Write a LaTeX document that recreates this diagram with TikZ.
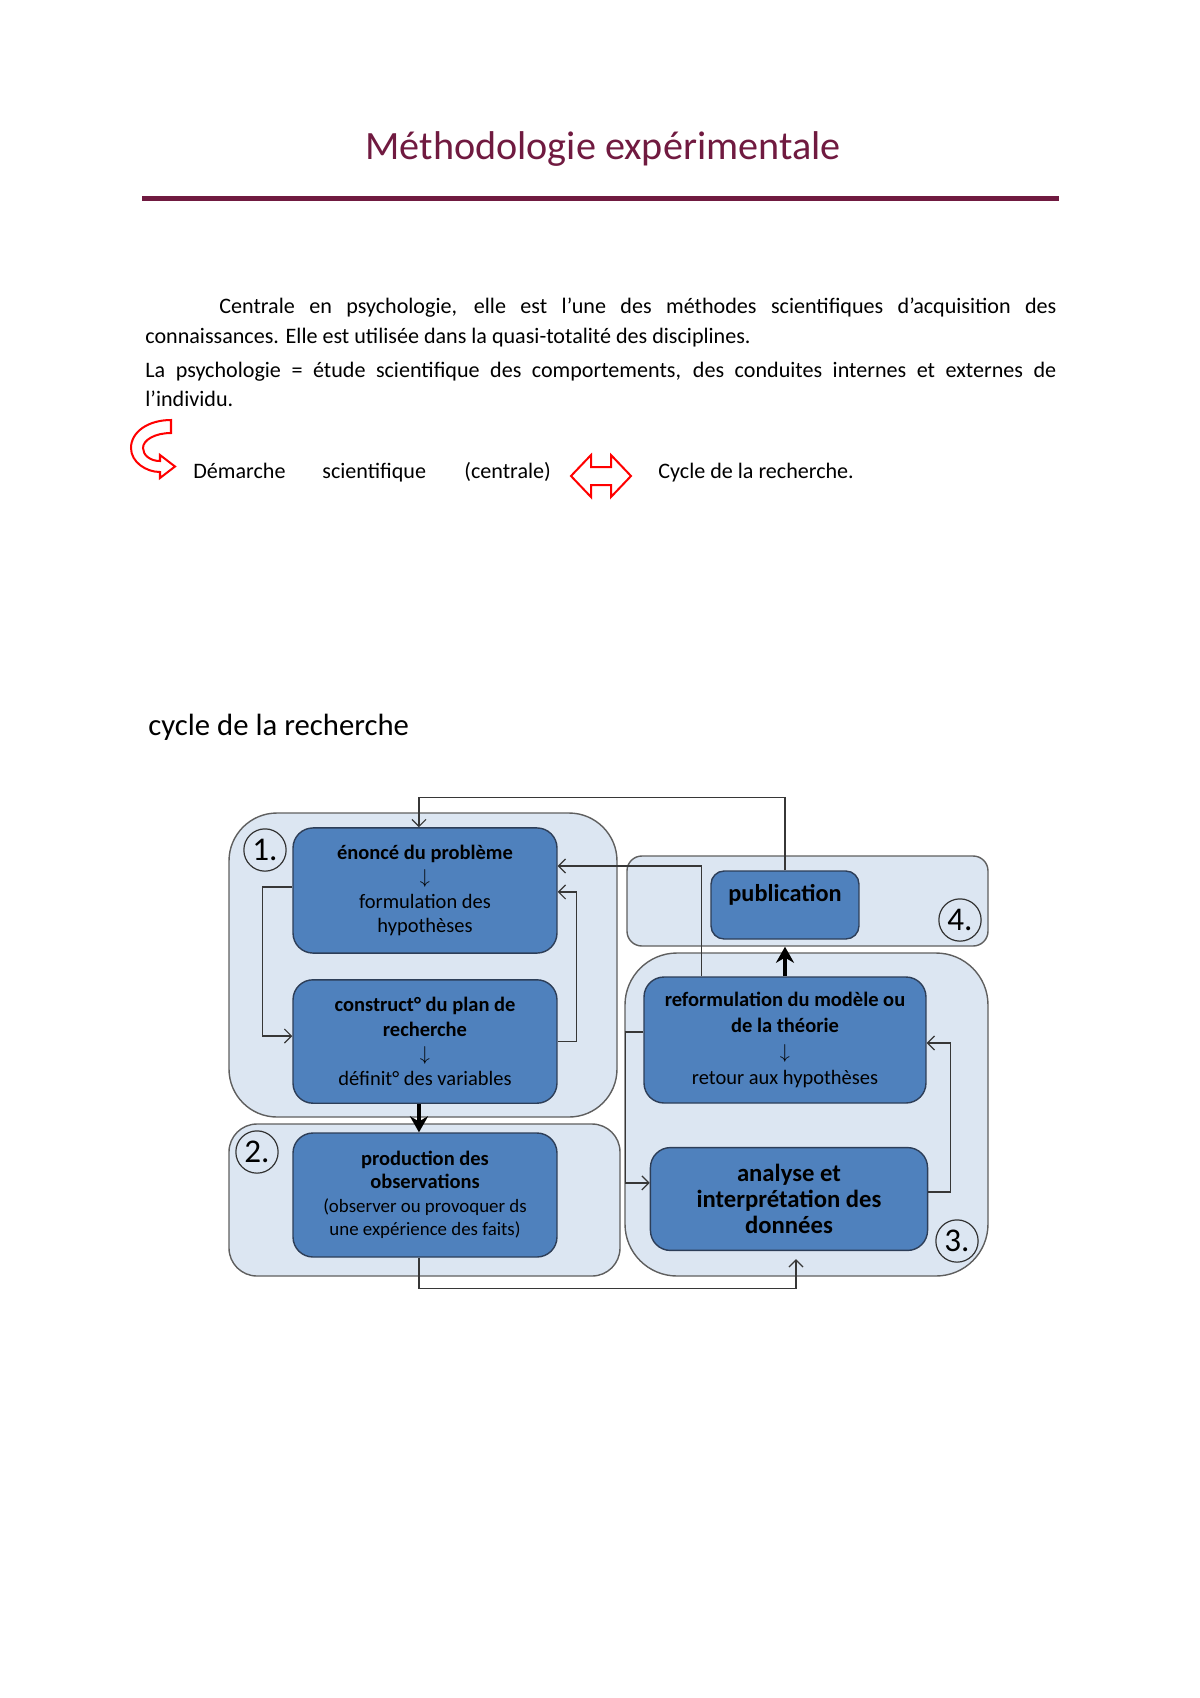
\documentclass[tikz,border=0pt]{standalone}
\usepackage{fontspec}
\setmainfont{Carlito}
\usetikzlibrary{arrows.meta}
\definecolor{titre}{RGB}{112,26,64}
\definecolor{bleuboite}{RGB}{79,129,189}
\definecolor{bordboite}{RGB}{45,62,88}
\definecolor{bleuclair}{RGB}{220,230,242}
\definecolor{bordzone}{RGB}{95,95,95}
\definecolor{fil}{RGB}{55,55,55}

\begin{document}
\begin{tikzpicture}[x=0.0175cm,y=-0.0175cm]

    % Styles
    \tikzset{
        texte/.style={inner sep=0pt, font=\fontsize{11}{13}\selectfont},
        zonebox/.style={draw=bordzone, fill=bleuclair, line width=0.7pt},
        etape/.style={draw=bordboite, fill=bleuboite, line width=0.7pt, rounded corners=0.35cm,
            align=center, minimum width=4.62cm, inner sep=0pt, font=\fontsize{10.2}{12.2}\selectfont},
        num/.style={circle, draw=black!80, fill=bleuclair, line width=0.6pt, minimum size=0.74cm,
            inner sep=0pt, font=\fontsize{16.5}{16.5}\selectfont},
        lien/.style={draw=fil, line width=0.6pt, -{Straight Barb[length=3.5pt,width=7pt]}},
        gros/.style={line width=2pt, -{Stealth[length=8pt,width=9pt]}},
        fleche/.style={draw=red, fill=white, line width=1pt, line join=miter}
    }

    \useasboundingbox (0,0) rectangle (1200,1698);

    % Title and rule
    \node[inner sep=0pt, anchor=base, text=titre, font=\fontsize{20}{24}\selectfont] (titre) at (603,159) {Méthodologie expérimentale};
    \draw[titre, line width=2.2pt] (142,198.5) -- (1059,198.5);

    % Text
    \node[texte, anchor=base west] (l1) at (219,313) {\makebox[14.65cm][s]{Centrale en psychologie, elle est l’une des méthodes scientifiques d’acquisition des}};
    \node[texte, anchor=base west] (l2) at (145,343) {connaissances. Elle est utilisée dans la quasi-totalité des disciplines.};
    \node[texte, anchor=base west] (l3) at (145,377) {\makebox[15.94cm][s]{La psychologie = étude scientifique des comportements, des conduites internes et externes de}};
    \node[texte, anchor=base west] (l4) at (145,406) {l’individu.};

    % Red arrows line
    \draw[fleche] (171,420) .. controls (148,420) and (131,432) .. (131,448)
        .. controls (131,462) and (146,472) .. (160,472) -- (160,478) -- (175,466.5)
        -- (160,455) -- (160,461) .. controls (150,461) and (143,455) .. (143,448)
        .. controls (143,440) and (155,433) .. (171,433) -- cycle;
    \node[texte, anchor=base west] (dem) at (193,478) {Démarche};
    \node[texte, anchor=base west] (sci) at (322,478) {scientifique};
    \node[texte, anchor=base west] (cen) at (464,478) {(centrale)};
    \draw[fleche] (571,476) -- (591,455) -- (591,467) -- (611,467) -- (611,455) -- (631,476)
        -- (611,497) -- (611,485) -- (591,485) -- (591,497) -- cycle;
    \node[texte, anchor=base west] (cyc) at (658,478) {Cycle de la recherche.};

    % Heading
    \node[inner sep=0pt, anchor=base west, font=\fontsize{15.3}{18}\selectfont] (cycle) at (148,735) {cycle de la recherche};

    % Zones
    \draw[zonebox, rounded corners=0.84cm] (229,813) rectangle (617,1117);
    \draw[zonebox, rounded corners=0.49cm] (229,1124) rectangle (620,1276);
    \draw[zonebox, rounded corners=0.26cm] (627,856) rectangle (988,946);
    \draw[zonebox, rounded corners=0.91cm] (625,953) rectangle (988,1276);

    % Steps
    \node[etape, minimum height=2.19cm] (A) at (425,890.5) {\textbf{énoncé du problème}\\$\downarrow$\\formulation des\\hypothèses};
    \node[etape, minimum height=2.16cm] (B) at (425,1041.5) {\textbf{construct° du plan de}\\\textbf{recherche}\\$\downarrow$\\définit° des variables};
    \node[etape, minimum height=2.17cm, font=\fontsize{10.2}{11.7}\selectfont] (C) at (425,1195) {\textbf{production des}\\\textbf{observations}\\{\fontsize{9.4}{11.7}\selectfont(observer ou provoquer ds}\\{\fontsize{9.4}{11.7}\selectfont une expérience des faits)}};
    \node[etape, minimum width=2.59cm, minimum height=1.19cm, rounded corners=0.23cm, text height=14.9pt, text depth=18.9pt,
        font=\fontsize{12.1}{14}\selectfont\bfseries] (P) at (785,905) {publication};
    \node[etape, minimum width=4.935cm, minimum height=2.205cm, font=\fontsize{10.2}{13}\selectfont] (R) at (785,1040) {\textbf{reformulation du modèle ou}\\\textbf{de la théorie}\\$\downarrow$\\retour aux hypothèses};
    \node[etape, minimum width=4.85cm, minimum height=1.80cm, font=\fontsize{12.3}{12.9}\selectfont\bfseries] (D) at (789,1199) {analyse et\\interprétation des\\données};

    % Numbers
    \node[num] (n1) at (265,850) {1.};
    \node[num] (n2) at (257,1152) {2.};
    \node[num] (n3) at (957,1241) {3.};
    \node[num] (n4) at (960,920) {4.};

    % Links
    \draw[lien] (P.north) -- ++(0,-73) -| ([xshift=-3pt]A.north);
    \draw[lien] ([xshift=-41.5pt]R.north) |- ([yshift=12.2pt]A.east);
    \draw[lien] (B.east) -- ++(19,0) |- ([yshift=-0.7pt]A.east);
    \draw[lien] ([yshift=1.7pt]A.west) -- ++(-30,0) |- ([yshift=2.7pt]B.west);
    \draw[gros] ([xshift=-3pt]B.south) -- ([xshift=-3pt]C.north);
    \draw[lien, shorten >=4pt] ([xshift=-3pt]C.south) -- ++(0,31) -| ([xshift=3.5pt]D.south);
    \draw[gros, shorten >=3.5pt] (R.north) -- (P.south);
    \draw[lien] ([yshift=4pt]R.west) -- ++(-18,0) |- ([yshift=8pt]D.west);
    \draw[lien] ([yshift=3.5pt]D.east) -- ++(22,0) |- ([yshift=-1.5pt]R.east);

\end{tikzpicture}
\end{document}
